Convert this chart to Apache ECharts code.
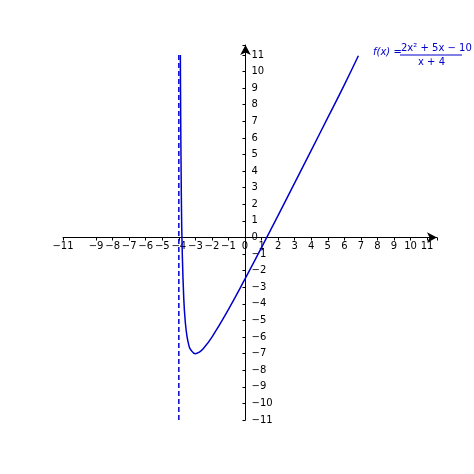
<!DOCTYPE html>
<html>
<head>
<meta charset="utf-8">
<script src="https://cdn.jsdelivr.net/npm/echarts@6/dist/echarts.min.js"></script>
<style>html,body{margin:0;background:#fff}#c{width:474px;height:474px}</style>
</head>
<body>
<div id="c"></div>
<script>
// points (x, y)
const curveX = [-3.908, -3.9, -3.85, -3.8, -3.7, -3.6, -3.5, -3.4, -3.3, -3, -2.8, -2.5, -2, -1, 0, 1, 2, 3, 4, 5, 6, 6.85];
const curveY = [11, 9.2, 2.63, -0.6, -3.73, -5.2, -6, -6.47, -6.74, -7, -6.93, -6.67, -6, -4.33, -2.5, -0.6, 1.33, 3.29, 5.25, 7.22, 9.2, 10.95];
const asymX = -4;
const asymY = [-11, 11];
const blue = '#0000cc';

const chart = echarts.init(document.getElementById('c'));
// axes pushed in to cross at the origin (11 units from the min edge)
const toZero = -182.5;
const axisCommon = {
  type: 'value', interval: 1, min: -11, max: 11.6, offset: toZero,
  axisLine: { onZero: false, lineStyle: { color: '#000', width: 1 }, symbol: ['none', 'arrow'], symbolSize: [8, 10] },
  axisTick: { show: true, length: 3, lineStyle: { color: '#000' } },
  splitLine: { show: false },
  axisLabel: {
    color: '#000', fontSize: 10, fontFamily: 'DejaVu Sans', margin: 4, showMinLabel: true,
    formatter: v => Number.isInteger(v) && v <= 11 ? String(v).replace('-', '\u2212') : ''
  }
};
chart.setOption({
  animation: false,
  grid: { left: 63, right: 37, top: 45, bottom: 54 },
  xAxis: Object.assign({}, axisCommon),
  yAxis: Object.assign({}, axisCommon, { axisLabel: Object.assign({}, axisCommon.axisLabel, { inside: true, margin: 6 }) }),
  series: [
    { type: 'line', data: curveX.map((x, i) => [x, curveY[i]]), smooth: true, showSymbol: false, lineStyle: { color: blue, width: 1.5 } },
    { type: 'line', data: asymY.map(y => [asymX, y]), showSymbol: false, lineStyle: { color: blue, width: 1.5, type: [5, 3] } }
  ],
  graphic: [
    { type: 'text', left: 373, top: 47, style: { text: 'f(x) =', fill: blue, font: 'italic 10px DejaVu Sans' } },
    { type: 'text', left: 401, top: 43, style: { text: '2x² + 5x − 10', fill: blue, font: '10px DejaVu Sans' } },
    { type: 'line', shape: { x1: 400, y1: 55, x2: 462, y2: 55 }, style: { stroke: blue, lineWidth: 1 } },
    { type: 'text', left: 418, top: 57, style: { text: 'x + 4', fill: blue, font: '10px DejaVu Sans' } }
  ]
});
</script>
</body>
</html>
